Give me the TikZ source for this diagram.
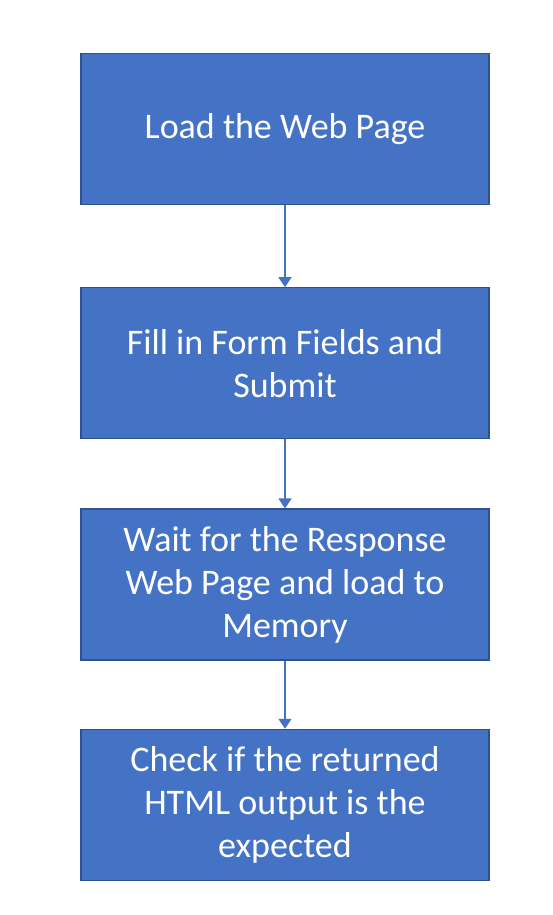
\documentclass[tikz,border=0pt]{standalone}
\usepackage{fontspec}
\setmainfont{Carlito}
\usepackage{tikz}
\usetikzlibrary{arrows.meta,arrows}
\usetikzlibrary{positioning}
\definecolor{stepblue}{HTML}{4472C4}
\definecolor{stepedge}{HTML}{2F528F}

\begin{document}
\begin{tikzpicture}[x=1pt,y=1pt]
\tikzstyle{step node}=[rectangle,draw=stepedge,line width=1.3pt,fill=stepblue,text=white,minimum width=408pt,minimum height=151pt,inner sep=0,align=center,font=\fontsize{36}{43}\selectfont]
\tikzstyle{flow arrow}=[draw=stepblue,line width=1.5pt,-{Triangle[width=13pt,length=10pt]},fill=stepblue]

\useasboundingbox (0,0) rectangle (552,-915);

    \node[step node]   (load)    at (285,-129)   {Load the Web Page};
    \node[step node]   (fill)    [below=82pt of load]   {Fill in Form Fields and\\Submit};
    \node[step node]   (wait)    [below=69pt of fill]   {Wait for the Response\\Web Page and load to\\Memory};
    \node[step node]   (check)   [below=68pt of wait]   {Check if the returned\\HTML output is the\\expected};

    %%%%%%%%%%%%%%%%%%%%%%%%%%
    \path
             (load)   edge[flow arrow] node {} (fill)
             (fill)   edge[flow arrow] node {} (wait)
             (wait)   edge[flow arrow] node {} (check)
;
\end{tikzpicture}
\end{document}
